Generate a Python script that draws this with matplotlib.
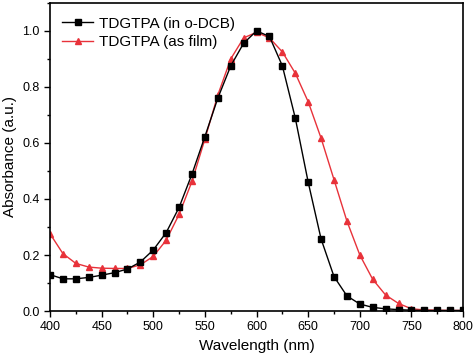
import numpy as np
import matplotlib
matplotlib.use("Agg")
import matplotlib.pyplot as plt
from matplotlib.ticker import MultipleLocator

plt.rcParams['font.family'] = ['Liberation Sans', 'DejaVu Sans']

# wavelength grid (nm) and absorbance
wavelength = np.arange(400, 800.1, 12.5)
abs_solution = [0.130, 0.115, 0.115, 0.120, 0.128, 0.137, 0.150, 0.175, 0.218,
                0.280, 0.370, 0.489, 0.623, 0.760, 0.875, 0.956, 1.000, 0.980,
                0.875, 0.689, 0.460, 0.257, 0.123, 0.054, 0.025, 0.013, 0.008,
                0.005, 0.003, 0.002, 0.002, 0.002, 0.002]
abs_film = [0.276, 0.205, 0.170, 0.157, 0.153, 0.152, 0.152, 0.165, 0.195,
            0.253, 0.345, 0.463, 0.614, 0.771, 0.900, 0.975, 0.995, 0.975,
            0.925, 0.849, 0.747, 0.617, 0.469, 0.321, 0.200, 0.113, 0.057,
            0.027, 0.008, 0.004, 0.003, 0.002, 0.002]
labels = ['TDGTPA (in o-DCB)', 'TDGTPA (as film)']

fig = plt.figure(figsize=(4.74, 3.6), dpi=100)
ax = fig.add_axes([0.1055, 0.136, 0.8715, 0.856])

ax.plot(wavelength, abs_solution, color='black', lw=1.0, marker='s',
        ms=4.5, label=labels[0], zorder=3)
ax.plot(wavelength, abs_film, color='#e8323a', lw=1.0, marker='^',
        ms=5, label=labels[1], zorder=2)

ax.set_xlim(400, 800)
ax.set_ylim(0, 1.1)
ax.xaxis.set_major_locator(MultipleLocator(50))
ax.xaxis.set_minor_locator(MultipleLocator(25))
ax.yaxis.set_major_locator(MultipleLocator(0.2))
ax.yaxis.set_minor_locator(MultipleLocator(0.1))
ax.tick_params(which='major', direction='out', length=4, width=1, labelsize=9)
ax.tick_params(which='minor', direction='out', length=2.5, width=1)
for s in ax.spines.values():
    s.set_linewidth(1.2)

ax.set_xlabel('Wavelength (nm)', fontsize=11)
ax.set_ylabel('Absorbance (a.u.)', fontsize=11)

ax.legend(loc='upper left', frameon=False, fontsize=11, handlelength=2.0,
          borderaxespad=0.4, labelspacing=0.3, handletextpad=0.4,
          bbox_to_anchor=(0.0, 0.995))

fig.savefig('out.png', dpi=100)
